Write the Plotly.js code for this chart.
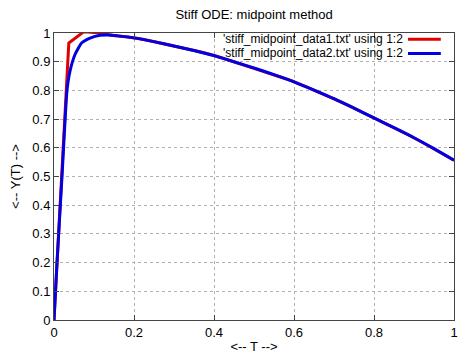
<!DOCTYPE html>
<html>
<head>
<meta charset="utf-8">
<script src="https://cdn.plot.ly/plotly-3.0.1.min.js"></script>
<style>html,body{margin:0;padding:0;background:#fff}#plot{width:474px;height:355px}</style>
</head>
<body>
<div id="plot"></div>
<script>
// Series 1 (coarse step)
var t1 = [0, 0.037, 0.074, 0.111, 0.148, 0.185, 0.222, 0.259, 0.296, 0.333, 0.370, 0.407, 0.444, 0.481, 0.519, 0.556, 0.593, 0.630, 0.667, 0.704, 0.741, 0.778, 0.815, 0.852, 0.889, 0.926, 0.963, 1.0];
var y1 = [0, 0.965, 1.004, 1.001, 0.991, 0.986, 0.978, 0.967, 0.955, 0.944, 0.933, 0.919, 0.903, 0.886, 0.868, 0.851, 0.834, 0.813, 0.791, 0.768, 0.744, 0.719, 0.694, 0.669, 0.643, 0.615, 0.587, 0.557];
// Series 2 (fine step)
var t2 = [0, 0.0075, 0.02, 0.0325, 0.04, 0.0525, 0.069, 0.09, 0.115, 0.135, 0.16, 0.2, 0.25, 0.3, 0.35, 0.4, 0.45, 0.5, 0.55, 0.6, 0.65, 0.7, 0.75, 0.8, 0.85, 0.9, 0.95, 1.0];
var y2 = [0, 0.2, 0.5, 0.8, 0.867, 0.925, 0.965, 0.982, 0.992, 0.993, 0.99, 0.983, 0.97, 0.955, 0.939, 0.921, 0.9, 0.878, 0.855, 0.83, 0.801, 0.771, 0.738, 0.704, 0.67, 0.635, 0.597, 0.557];
var names = ["'stiff_midpoint_data1.txt' using 1:2", "'stiff_midpoint_data2.txt' using 1:2"];
var colors = ["#e00000", "#0000e0"];
var xticks = [0, 0.2, 0.4, 0.6, 0.8, 1];
var yticks = [0, 0.1, 0.2, 0.3, 0.4, 0.5, 0.6, 0.7, 0.8, 0.9, 1];

var font = {family: "Liberation Sans, Arial, sans-serif", size: 13, color: "#000"};
var traces = [
  {x: t1, y: y1, mode: "lines", name: names[0], line: {color: colors[0], width: 3}},
  {x: t2, y: y2, mode: "lines", name: names[1], line: {color: colors[1], width: 3, shape: "spline", smoothing: 0.5}}
];
var axisCommon = {
  showline: true, mirror: "allticks", linecolor: "#444", linewidth: 1,
  ticks: "inside", ticklen: 5, tickcolor: "#444",
  showgrid: true, gridcolor: "#b0b0b0", griddash: "dot", gridwidth: 1,
  zeroline: false, tickfont: font, fixedrange: true
};
var layout = {
  width: 474, height: 355,
  margin: {l: 54, r: 20, t: 33, b: 35},
  paper_bgcolor: "#fff", plot_bgcolor: "#fff",
  font: font,
  showlegend: false,
  title: {text: "Stiff ODE: midpoint method", font: font, x: 0.536, xanchor: "center", y: 0.96, yanchor: "middle"},
  xaxis: Object.assign({}, axisCommon, {range: [0, 1], tickvals: xticks, ticktext: xticks.map(String),
    title: {text: "<-- T -->", font: font, standoff: 3}}),
  yaxis: Object.assign({}, axisCommon, {range: [0, 1], tickvals: yticks, ticktext: yticks.map(String),
    title: {text: "<-- Y(T) -->", font: font, standoff: 8}}),
  annotations: [0, 1].map(function (i) {
    return {xref: "paper", yref: "paper", x: 0.8775, y: 0.978 - i * 0.049, xanchor: "right", yanchor: "middle",
      text: names[i], showarrow: false, font: {family: font.family, size: 12, color: "#000"}};
  }),
  shapes: [0, 1].map(function (i) {
    return {type: "line", xref: "paper", yref: "paper", x0: 0.885, x1: 0.967, y0: 0.978 - i * 0.049, y1: 0.978 - i * 0.049,
      line: {color: colors[i], width: 3}};
  })
};
Plotly.newPlot("plot", traces, layout, {displayModeBar: false, staticPlot: true});
</script>
</body>
</html>
